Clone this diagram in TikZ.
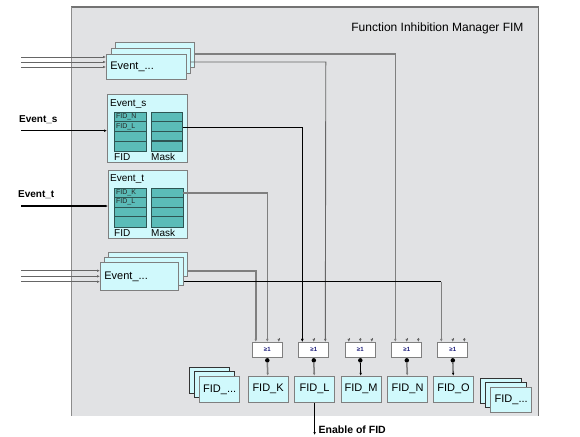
\documentclass[tikz,border=0pt]{standalone}
\usepackage{fontspec}
\setmainfont{Liberation Sans}
\usetikzlibrary{arrows.meta}
\definecolor{bg}{HTML}{E1E2E4}
\definecolor{cy}{HTML}{D0F9FC}
\definecolor{tl}{HTML}{5BBCB8}
\definecolor{tld}{HTML}{2E5553}
\definecolor{bd}{HTML}{7F7F7F}
\definecolor{orc}{HTML}{1A1A7A}
\begin{document}
\begin{tikzpicture}[x=1pt,y=-1pt,
  fs/.style={font=\fontsize{#1}{#1}\selectfont},
  evbox/.style={draw=bd, fill=cy, line width=0.8pt, anchor=north west, inner sep=0pt},
  evtext/.style={evbox, align=left, text width=#1, inner xsep=4pt, fs=11},
  tbl/.style={draw=tld, fill=tl, line width=0.7pt, anchor=north west, inner sep=0pt},
  row/.style={draw=tld, line width=0.6pt},
  cell/.style={anchor=west, inner sep=0pt, fs=7, text=black!85},
  lbl/.style={anchor=west, inner sep=0pt, fs=10},
  gate/.style={draw=bd, fill=white, line width=0.7pt, minimum width=30, minimum height=15, inner sep=0pt, font=\bfseries\fontsize{6}{6}\selectfont, text=orc},
  fid/.style={draw=bd, fill=cy, line width=0.8pt, minimum width=40, minimum height=26, inner sep=0pt, fs=11},
  fidbk/.style={draw=black!80, fill=cy, line width=0.8pt, minimum width=40, minimum height=26, inner sep=0pt, anchor=north west},
  tip/.style={-{Latex[length=3pt,width=2.6pt]}},
  inl/.style={tip, draw=black!60, line width=0.7pt},
  thk/.style={tip, draw=bd, line width=1.6pt},
  thn/.style={tip, draw=black!60, line width=0.9pt},
  blk/.style={tip, draw=black, line width=0.8pt},
  stub/.style={tip, draw=black!60, line width=0.5pt},
  dotn/.style={circle, fill=black, inner sep=0pt, minimum size=4.5pt}
]
\useasboundingbox (0,0) rectangle (580,436);
\fill[white] (0,0) rectangle (580,436);
% main frame
\node[fill=bg, anchor=north west, minimum width=467, minimum height=409, inner sep=0pt] (fim) at (71,7) {};
\draw[draw=black!55, line width=1.2pt] (fim.north west) -- (fim.north east) -- (fim.south east);
\draw[draw=black!45, line width=0.7pt] (fim.north west) -- (fim.south west);
\node[anchor=east, fs=12] (title) at (527,28) {Function Inhibition Manager FIM};

% top Event_... stack
\node[evbox, minimum width=79, minimum height=25] (e1c) at (115,42) {};
\node[evbox, minimum width=79, minimum height=25] (e1b) at (110.5,48) {};
\node[evtext=72pt, minimum height=25] (e1) at (106,54) {Event\_...};
\coordinate (i1a) at (21,57);
\coordinate (i1b) at (21,62);
\coordinate (i1c) at (21,67);
\draw[inl] (i1a) -- (i1a -| e1.west);
\draw[inl] (i1b) -- (i1b -| e1.west);
\draw[inl] (i1c) -- (i1c -| e1.west);

% Event_s
\node[evbox, minimum width=80, minimum height=68] (es) at (107,94) {};
\node[lbl] (est) at (110,104) {Event\_s};
\node[tbl, minimum width=32, minimum height=39] (esF) at (114,112) {};
\node[tbl, minimum width=31, minimum height=39] (esM) at (151,112) {};
\draw[row] (114,121.7) -- (146,121.7) (114,131.5) -- (146,131.5) (114,141) -- (146,141);
\draw[row] (151,121.7) -- (182,121.7) (151,131.5) -- (182,131.5);
\draw[row, line width=1.3pt] (151,141) -- (182,141);
\node[cell] (esc1) at (116,117) {FID\_N};
\node[cell] (esc2) at (116,126.5) {FID\_L};
\node[lbl] (esl1) at (114,157) {FID};
\node[lbl] (esl2) at (151,157) {Mask};
\node[anchor=west, inner sep=0pt, font=\bfseries\fontsize{10}{10}\selectfont] (esin) at (19,120) {Event\_s};
\coordinate (si) at (21,130.7);
\draw[tip, black, line width=1.1pt] (si) -- (si -| es.west);

% Event_t
\node[evbox, minimum width=79, minimum height=68] (et) at (108,170) {};
\node[lbl] (ett) at (110,179.5) {Event\_t};
\node[tbl, minimum width=32, minimum height=39] (etF) at (114,187.7) {};
\node[tbl, minimum width=31.7, minimum height=39] (etM) at (151,187.7) {};
\draw[row] (114,197) -- (146,197) (114,207) -- (146,207) (114,216.7) -- (146,216.7);
\draw[row] (151,197) -- (182.7,197) (151,207) -- (182.7,207);
\draw[row, line width=1.3pt] (151,216.7) -- (182.7,216.7);
\node[cell] (etc1) at (116,192.3) {FID\_K};
\node[cell] (etc2) at (116,202) {FID\_L};
\node[lbl] (etl1) at (114,232.7) {FID};
\node[lbl] (etl2) at (151,232.7) {Mask};
\node[anchor=west, inner sep=0pt, font=\bfseries\fontsize{10}{10}\selectfont] (etin) at (18,195) {Event\_t};
\coordinate (ti) at (21,206);
\draw[tip, black, line width=1.1pt] (ti) -- (ti -| et.west);

% bottom Event_... stack
\node[evbox, minimum width=79, minimum height=24] (e2c) at (108,251.7) {};
\node[evbox, minimum width=79, minimum height=28] (e2b) at (104,257) {};
\node[evtext=70pt, minimum height=28] (e2) at (100,262) {Event\_...};
\coordinate (i2a) at (21,270.7);
\coordinate (i2b) at (21,276.3);
\coordinate (i2c) at (21,281.7);
\draw[inl] (i2a) -- (i2a -| e2.west);
\draw[inl] (i2b) -- (i2b -| e2.west);
\draw[inl] (i2c) -- (i2c -| e2.west);

% OR gates
\foreach \n/\x in {K/267.3, L/313.8, M/360.3, N/406.8, O/452.8} {
  \node[gate] (g\n) at (\x,349.8) {≥1};
  \coordinate (g\n a) at ([xshift=-11.5pt]g\n.north);
  \coordinate (g\n b) at (g\n.north);
  \coordinate (g\n c) at ([xshift=11.5pt]g\n.north);
  \node[dotn] (d\n) at ([yshift=-2.7pt]g\n.south) {};
  \node[fid] (f\n) at (\x+0.8,389.2) {FID\_\n};
}
% unused input stubs
\foreach \p in {Kc, La, Lb, Ma, Mb, Mc, Nb, Nc, Ob, Oc} {
  \draw[stub] ([yshift=4pt]g\p) -- (g\p);
}

% gate to FID
\draw[thk, line width=1.5pt] (dK) -- (fK);
\draw[thk, line width=1.5pt] (dL) -- (fL);
\draw[blk] (dM) -- (fM);
\draw[thk, line width=1.5pt] (dN) -- (fN);
\draw[blk] (dO) -- (fO);

% FID stacks
\node[fidbk] (fa3) at (189,366.7) {};
\node[fidbk] (fa2) at (194,371.3) {};
\node[fidbk, draw=bd, anchor=north west, minimum width=40, minimum height=26, fs=11] (fa1) at (199.3,376) {FID\_...};
\node[fidbk, minimum width=41, minimum height=25] (fb3) at (480.3,377.7) {};
\node[fidbk, minimum width=41, minimum height=25] (fb2) at (485.3,382.3) {};
\node[fidbk, draw=bd, minimum width=41, minimum height=25, fs=11] (fb1) at (490.3,386.7) {FID\_...};

% connectors
\coordinate (c1) at (395.3,54);
\draw[thk] (e1c.east |- c1) -- (c1) -- (gNa);
\coordinate (c2) at (325.8,62);
\draw[thn] (e1b.east |- c2) -- (c2) -- (gLc);
\coordinate (c3) at (302.3,127.7);
\draw[blk] (esM.east |- c3) -- (c3) -- (gLa);
\coordinate (c4) at (267.3,192.7);
\draw[thk] (etM.east |- c4) -- (c4) -- (gKb);
\coordinate (c5) at (255.8,271);
\draw[thk] (e2c.east |- c5) -- (c5) -- (gKa);
\coordinate (c6) at (441.3,281.5);
\draw[black, line width=0.8pt] (e2b.east |- c6) -- (c6);
\draw[thk] (c6) -- (gOa);

% output
\coordinate (en) at (314.6,435);
\draw[tip, black, line width=1pt] (fL.south) -- (en);
\node[anchor=west, inner sep=0pt, font=\bfseries\fontsize{10.5}{10.5}\selectfont] (enl) at (318.5,430) {Enable of FID};
\end{tikzpicture}
\end{document}
